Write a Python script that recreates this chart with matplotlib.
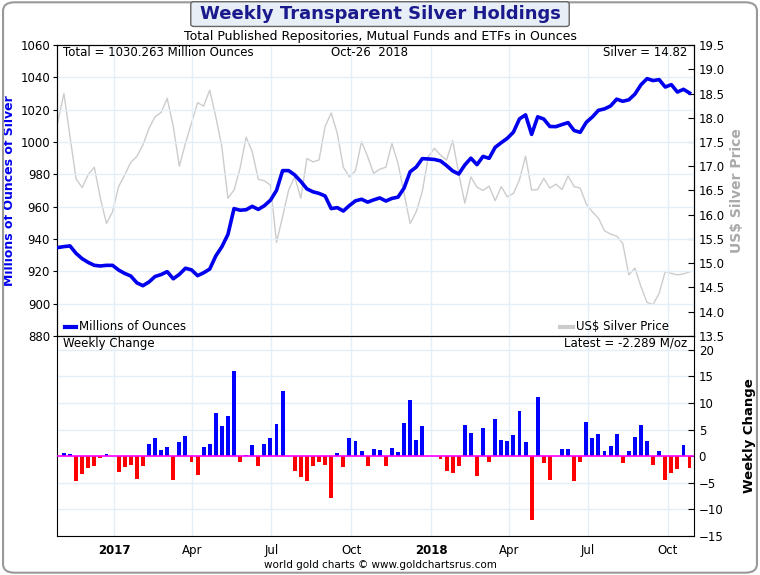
import numpy as np
import pandas as pd
import matplotlib
matplotlib.use("Agg")
import matplotlib.pyplot as plt
import matplotlib.dates as mdates
from matplotlib.patches import FancyBboxPatch

dates = pd.date_range("2016-10-28", "2018-10-26", freq="7D")

holdings = [934.7, 935.3, 935.7, 931.1, 927.8, 925.5, 923.7, 923.3, 923.7, 923.7,
            920.8, 918.7, 917.1, 912.9, 911.1, 913.4, 916.8, 918.0, 919.8, 915.4,
            918.1, 921.9, 920.9, 917.3, 919.1, 921.4, 929.5, 935.2, 942.8, 958.8,
            957.8, 958.1, 960.2, 958.3, 960.6, 964.0, 970.1, 982.3, 982.3, 979.6,
            975.6, 971.0, 969.2, 968.2, 966.6, 958.8, 959.4, 957.3, 960.7, 963.6,
            964.6, 962.8, 964.2, 965.4, 963.5, 965.1, 965.9, 971.5, 981.6, 984.5,
            989.7, 989.5, 989.2, 988.3, 985.4, 982.1, 980.2, 985.8, 990.0, 986.0,
            991.1, 989.9, 996.7, 999.6, 1002.3, 1006.1, 1014.3, 1016.8, 1004.7, 1015.6,
            1014.2, 1009.6, 1009.5, 1010.8, 1012.0, 1007.1, 1006.0, 1012.2, 1015.5, 1019.6,
            1020.5, 1022.3, 1026.5, 1025.2, 1026.1, 1029.6, 1035.4, 1039.2, 1038.0, 1038.6,
            1034.0, 1035.5, 1030.9, 1032.6, 1030.3]

silver = [17.92, 18.50, 17.61, 16.74, 16.56, 16.83, 16.98, 16.34, 15.82, 16.06,
          16.58, 16.82, 17.08, 17.20, 17.44, 17.78, 18.02, 18.11, 18.40, 17.82,
          17.00, 17.47, 17.89, 18.31, 18.24, 18.57, 18.02, 17.40, 16.34, 16.51,
          16.96, 17.60, 17.30, 16.73, 16.70, 16.61, 15.43, 15.96, 16.51, 16.78,
          16.34, 17.16, 17.09, 17.13, 17.82, 18.10, 17.68, 16.98, 16.78, 16.91,
          17.51, 17.20, 16.85, 16.94, 16.98, 17.47, 17.06, 16.44, 15.82, 16.06,
          16.48, 17.20, 17.37, 17.23, 17.13, 17.53, 16.85, 16.24, 16.78, 16.57,
          16.50, 16.59, 16.29, 16.58, 16.37, 16.44, 16.72, 17.21, 16.51, 16.52,
          16.75, 16.55, 16.63, 16.52, 16.80, 16.58, 16.55, 16.22, 16.06, 15.93,
          15.67, 15.60, 15.56, 15.41, 14.76, 14.90, 14.52, 14.19, 14.15, 14.38,
          14.83, 14.79, 14.76, 14.78, 14.82]

weekly_change = [0.6, 0.4, -4.6, -3.3, -2.3, -1.8, -0.4, 0.4, 0.0, -2.9,
                 -2.1, -1.6, -4.2, -1.8, 2.3, 3.4, 1.2, 1.8, -4.4, 2.7,
                 3.8, -1.0, -3.6, 1.8, 2.3, 8.1, 5.7, 7.6, 16.0, -1.0,
                 0.25, 2.1, -1.9, 2.3, 3.4, 6.1, 12.2, 0.0, -2.7, -4.0,
                 -4.6, -1.8, -1.0, -1.6, -7.8, 0.6, -2.1, 3.4, 2.9, 1.0,
                 -1.8, 1.4, 1.2, -1.9, 1.6, 0.8, 6.2, 10.6, 3.1, 5.7,
                 0.0, 0.0, -0.6, -2.7, -3.1, -1.9, 5.9, 4.4, -3.8, 5.3,
                 -1.0, 7.0, 3.1, 2.9, 4.0, 8.5, 2.7, -11.9, 11.1, -1.2,
                 -4.4, 0.0, 1.4, 1.4, -4.75, -1.0, 6.4, 3.4, 4.2, 1.0,
                 1.9, 4.2, -1.2, 1.0, 3.6, 5.9, 2.9, -1.6, 1.0, -4.4,
                 -3.1, -2.5, 2.1, -2.289]

holding_ticks = [880, 900, 920, 940, 960, 980, 1000, 1020, 1040, 1060]
price_ticks = [13.5, 14.0, 14.5, 15.0, 15.5, 16.0, 16.5, 17.0, 17.5, 18.0, 18.5, 19.0, 19.5]
change_ticks = [-15, -10, -5, 0, 5, 10, 15, 20]
month_ticks = ["2017-01-01", "2017-04-01", "2017-07-01", "2017-10-01",
               "2018-01-01", "2018-04-01", "2018-07-01", "2018-10-01"]
month_labels = ["2017", "Apr", "Jul", "Oct", "2018", "Apr", "Jul", "Oct"]

fig = plt.figure(figsize=(7.6, 5.75), dpi=100)
fig.patch.set_facecolor("white")
fig.patches.append(FancyBboxPatch((0.004, 0.004), 0.992, 0.992, boxstyle="round,pad=0,rounding_size=0.015",
                                  transform=fig.transFigure, fc="none", ec="#999999", lw=1.5))
fig.patches.append(FancyBboxPatch((0.255, 0.958), 0.49, 0.035, boxstyle="round,pad=0.004",
                                  transform=fig.transFigure, fc="#e8eef6", ec="#666666", lw=1))
fig.text(0.5, 0.975, "Weekly Transparent Silver Holdings", ha="center", va="center",
         fontsize=13, fontweight="bold", color="#1a1a8c")
fig.text(0.5, 0.936, "Total Published Repositories, Mutual Funds and ETFs in Ounces",
         ha="center", va="center", fontsize=9)
fig.text(0.5, 0.018, "world gold charts © www.goldchartsrus.com", ha="center", va="center", fontsize=7.5)

xmin = pd.Timestamp("2016-10-27")
xmax = pd.Timestamp("2018-10-31")
grid_c = "#e3eef8"

ax1 = fig.add_axes([0.075, 0.4157, 0.838, 0.506])
ax1.plot(dates, holdings, color="#0000ee", lw=2.6, zorder=3)
ax1.set_ylim(880, 1060)
ax1.set_yticks(holding_ticks)
ax1.set_xlim(xmin, xmax)
ax1.set_xticks(pd.to_datetime(month_ticks))
ax1.set_xticklabels([])
ax1.tick_params(axis="x", length=0)
ax1.tick_params(axis="y", labelsize=8.5, direction="out", length=3, pad=2)
ax1.grid(True, color=grid_c, lw=1)
ax1.set_ylabel("Millions of Ounces of Silver", color="#0000ee", fontweight="bold", fontsize=9, labelpad=3)
ax2 = ax1.twinx()
ax2.plot(dates, silver, color="#cccccc", lw=1, zorder=2)
ax2.set_ylim(13.5, 19.5)
ax2.set_yticks(price_ticks)
ax2.set_yticklabels([f"{v:.1f}" for v in price_ticks])
ax2.tick_params(axis="y", labelsize=8.5, direction="in", length=4)
ax2.set_ylabel("US$ Silver Price", color="#aaaaaa", fontweight="bold", fontsize=10)
ax1.set_zorder(ax2.get_zorder() + 1)
ax1.patch.set_visible(False)
ax1.text(0.01, 0.995, "Total = 1030.263 Million Ounces", transform=ax1.transAxes, va="top", fontsize=8.5)
ax1.text(0.49, 0.995, "Oct-26  2018", transform=ax1.transAxes, va="top", ha="center", fontsize=8.5)
ax1.text(0.99, 0.995, "Silver = 14.82", transform=ax1.transAxes, va="top", ha="right", fontsize=8.5)
ax1.plot([0.012, 0.03], [0.032, 0.032], transform=ax1.transAxes, color="#0000ee", lw=3)
ax1.text(0.035, 0.032, "Millions of Ounces", transform=ax1.transAxes, va="center", fontsize=8.5)
ax1.plot([0.79, 0.81], [0.032, 0.032], transform=ax1.transAxes, color="#cccccc", lw=3)
ax1.text(0.815, 0.032, "US$ Silver Price", transform=ax1.transAxes, va="center", fontsize=8.5)

ax3 = fig.add_axes([0.075, 0.0678, 0.838, 0.348])
colors = ["#0000ff" if v >= 0 else "#ff0000" for v in weekly_change]
ax3.bar(dates[1:], weekly_change, width=4.5, color=colors, zorder=3)
ax3.axhline(0, color="#ff00ff", lw=1.2, zorder=4)
ax3.set_xlim(xmin, xmax)
ax3.set_ylim(-15, 22.6)
ax3.set_xticks(pd.to_datetime(month_ticks))
ax3.set_xticklabels(month_labels, fontsize=8.5)
for lbl in ax3.get_xticklabels():
    if lbl.get_text().startswith("20"):
        lbl.set_fontweight("bold")
ax3.tick_params(axis="x", length=0, pad=6)
ax3.yaxis.tick_right()
ax3.yaxis.set_label_position("right")
ax3.set_yticks(change_ticks)
ax3.tick_params(axis="y", labelsize=8.5, direction="in", length=4)
ax3.grid(True, color=grid_c, lw=1)
ax3.set_axisbelow(True)
ax3.set_ylabel("Weekly Change", fontweight="bold", fontsize=9.5, labelpad=14)
ax3.text(0.01, 0.995, "Weekly Change", transform=ax3.transAxes, va="top", fontsize=8.5)
ax3.text(0.99, 0.995, "Latest = -2.289 M/oz", transform=ax3.transAxes, va="top", ha="right", fontsize=8.5)

fig.savefig("out.png", dpi=100)
